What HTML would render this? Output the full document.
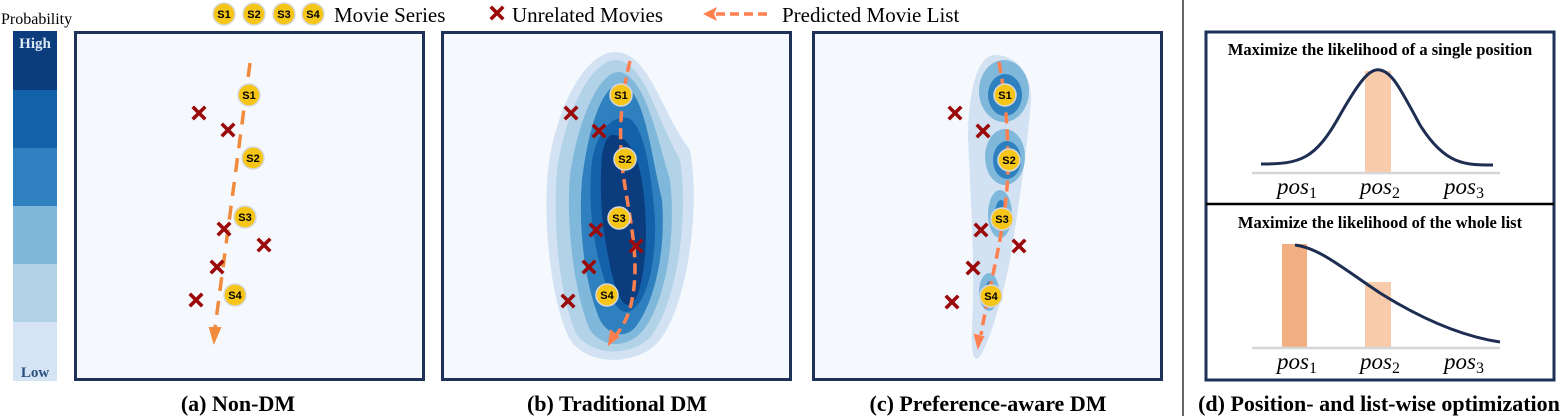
<!DOCTYPE html>
<html><head><meta charset="utf-8"><style>
html,body{margin:0;padding:0;background:#fff;}
svg{display:block;}
.cap{font-family:"Liberation Serif",serif;font-weight:bold;font-size:22px;fill:#000;}
.leg{font-family:"Liberation Serif",serif;font-size:21px;fill:#000;}
.s{font-family:"Liberation Sans",sans-serif;font-weight:bold;font-size:11px;fill:#000;}
.t{font-family:"Liberation Serif",serif;font-weight:bold;font-size:16.5px;fill:#000;}
.p{font-family:"Liberation Serif",serif;font-style:italic;font-size:23px;fill:#000;}
.sub{font-family:"Liberation Serif",serif;font-style:normal;font-size:16px;fill:#000;}
</style></head><body>
<svg width="1563" height="416" viewBox="0 0 1563 416" xmlns="http://www.w3.org/2000/svg">
<defs>
<g id="x"><path d="M-5,-5 L5,5 M5,-5 L-5,5" stroke="#9b0a0a" stroke-width="3.6" stroke-linecap="square"/></g>
</defs>
<!-- legend -->
<text x="1" y="24" font-family="Liberation Serif,serif" font-size="16">Probability</text>
<g>
<circle cx="224" cy="14" r="11" fill="#f5c518" stroke="#d8d8d8" stroke-width="1.5"/><text x="224" y="18" text-anchor="middle" class="s">S1</text>
<circle cx="254" cy="14" r="11" fill="#f5c518" stroke="#d8d8d8" stroke-width="1.5"/><text x="254" y="18" text-anchor="middle" class="s">S2</text>
<circle cx="284" cy="14" r="11" fill="#f5c518" stroke="#d8d8d8" stroke-width="1.5"/><text x="284" y="18" text-anchor="middle" class="s">S3</text>
<circle cx="313" cy="14" r="11" fill="#f5c518" stroke="#d8d8d8" stroke-width="1.5"/><text x="313" y="18" text-anchor="middle" class="s">S4</text>
</g>
<text x="334" y="22" class="leg">Movie Series</text>
<use href="#x" x="497" y="13"/>
<text x="512" y="22" class="leg">Unrelated Movies</text>
<line x1="716" y1="14" x2="770" y2="14" stroke="#ff7f4f" stroke-width="3.5" stroke-dasharray="9,5"/>
<path d="M703,14 L717,7 L714,14 L717,21 Z" fill="#ff7f4f"/>
<text x="782" y="22" class="leg">Predicted Movie List</text>

<!-- colorbar -->
<rect x="13" y="31" width="44" height="59" fill="#0b3d7e"/>
<rect x="13" y="90" width="44" height="58" fill="#1361a8"/>
<rect x="13" y="148" width="44" height="58" fill="#2f80bf"/>
<rect x="13" y="206" width="44" height="58" fill="#7fb8da"/>
<rect x="13" y="264" width="44" height="58" fill="#b2d2e8"/>
<rect x="13" y="322" width="44" height="59" fill="#d5e4f4"/>
<text x="35" y="48" text-anchor="middle" font-family="Liberation Serif,serif" font-weight="bold" font-size="15" fill="#dbe8f5">High</text>
<text x="35" y="377" text-anchor="middle" font-family="Liberation Serif,serif" font-weight="bold" font-size="15" fill="#2a4f7e">Low</text>

<!-- panel a -->
<rect x="75.5" y="32.5" width="348" height="347" fill="#f5f9fe" stroke="#1e3158" stroke-width="3"/>
<line x1="250" y1="63" x2="215" y2="328" stroke="#f08a3c" stroke-width="3.5" stroke-dasharray="14,10"/>
<path d="M210,328 L220,328 L214,342 Z" fill="#f08a3c" stroke="#f08a3c" stroke-width="2"/>
<use href="#x" x="199" y="113"/><use href="#x" x="228" y="130"/><use href="#x" x="224" y="229"/><use href="#x" x="264" y="245"/><use href="#x" x="217" y="267"/><use href="#x" x="196" y="300"/>
<circle cx="249" cy="95" r="11" fill="#f5c518" stroke="#d8d8d8" stroke-width="1.5"/><text x="249" y="99" text-anchor="middle" class="s">S1</text>
<circle cx="253" cy="158" r="11" fill="#f5c518" stroke="#d8d8d8" stroke-width="1.5"/><text x="253" y="162" text-anchor="middle" class="s">S2</text>
<circle cx="245" cy="217" r="11" fill="#f5c518" stroke="#d8d8d8" stroke-width="1.5"/><text x="245" y="221" text-anchor="middle" class="s">S3</text>
<circle cx="235" cy="295" r="11" fill="#f5c518" stroke="#d8d8d8" stroke-width="1.5"/><text x="235" y="299" text-anchor="middle" class="s">S4</text>
<text x="238" y="411" text-anchor="middle" class="cap">(a) Non-DM</text>

<!-- panel b -->
<rect x="442.5" y="32.5" width="348" height="347" fill="#f5f9fe" stroke="#1e3158" stroke-width="3"/>
<path d="M617,52 C650,55 660,110 690,150 C700,200 690,300 660,340 C640,365 590,368 570,340 C550,300 543,220 548,170 C555,110 585,50 617,52 Z" fill="#d2e2f3"/>
<path d="M618,60 C645,65 655,115 680,160 C688,210 680,295 652,335 C635,356 595,358 577,335 C558,295 553,220 557,170 C565,115 590,58 618,60 Z" fill="#b2d2e8"/>
<path d="M620,72 C645,78 655,130 670,180 C676,230 668,295 645,328 C630,348 605,350 590,330 C573,290 566,220 570,175 C577,125 598,70 620,72 Z" fill="#7fb8da"/>
<path d="M622,84 C645,92 650,150 662,200 C666,250 655,300 637,325 C628,338 610,338 600,320 C585,285 578,230 582,180 C588,130 602,82 622,84 Z" fill="#2f80bf"/>
<path d="M628,118 C645,125 652,180 655,220 C656,260 648,300 632,310 C620,318 610,300 603,275 C592,240 588,200 592,160 C598,130 612,115 628,118 Z" fill="#1361a8"/>
<path d="M615,135 C640,140 645,190 646,230 C646,265 640,300 630,305 C620,308 612,280 607,250 C600,215 600,180 602,155 C605,140 608,134 615,135 Z" fill="#0b3d7e"/>
<path d="M630,61 C620,100 618,140 624,180 C630,220 640,260 632,300 C628,320 620,330 614,338" fill="none" stroke="#ff7f4f" stroke-width="3.5" stroke-dasharray="11,6"/>
<path d="M609,344 L611,331 L618,337 Z" fill="#ff7f4f" stroke="#ff7f4f" stroke-width="2"/>
<use href="#x" x="571" y="113"/><use href="#x" x="599" y="131"/><use href="#x" x="596" y="230"/><use href="#x" x="636" y="246"/><use href="#x" x="589" y="267"/><use href="#x" x="568" y="301"/>
<circle cx="621" cy="95" r="11" fill="#f5c518" stroke="#d8d8d8" stroke-width="1.5"/><text x="621" y="99" text-anchor="middle" class="s">S1</text>
<circle cx="625" cy="159" r="11" fill="#f5c518" stroke="#d8d8d8" stroke-width="1.5"/><text x="625" y="163" text-anchor="middle" class="s">S2</text>
<circle cx="619" cy="218" r="11" fill="#f5c518" stroke="#d8d8d8" stroke-width="1.5"/><text x="619" y="222" text-anchor="middle" class="s">S3</text>
<circle cx="607" cy="295" r="11" fill="#f5c518" stroke="#d8d8d8" stroke-width="1.5"/><text x="607" y="299" text-anchor="middle" class="s">S4</text>
<text x="617" y="411" text-anchor="middle" class="cap">(b) Traditional DM</text>

<!-- panel c -->
<rect x="813.5" y="32.5" width="348" height="347" fill="#f5f9fe" stroke="#1e3158" stroke-width="3"/>
<path d="M995,55 C1020,55 1032,80 1031,100 C1028,140 1020,200 1010,260 C1000,310 985,355 977,359 C970,360 972,330 973,300 C974,250 970,180 968,140 C968,100 975,55 995,55 Z" fill="#d2e2f3"/>
<ellipse cx="1004" cy="91" rx="25" ry="31" fill="#7fb8da"/>
<ellipse cx="1005" cy="95" rx="17" ry="21" fill="#2f80bf"/>
<ellipse cx="1005" cy="157" rx="20" ry="28" fill="#7fb8da"/>
<ellipse cx="1007" cy="160" rx="14" ry="19" fill="#2f80bf"/>
<ellipse cx="1000" cy="214" rx="12" ry="24" fill="#7fb8da"/>
<ellipse cx="1001" cy="214" rx="6" ry="14" fill="#2f80bf"/>
<ellipse cx="989" cy="292" rx="10" ry="19" fill="#7fb8da"/>
<ellipse cx="990" cy="292" rx="5" ry="11" fill="#2f80bf"/>
<path d="M999,62 C1006,100 1008,130 1008,170 C1006,230 990,280 981,335" fill="none" stroke="#ff7f4f" stroke-width="3.5" stroke-dasharray="11,6"/>
<path d="M978,347 L975,335 L983,337 Z" fill="#ff7f4f" stroke="#ff7f4f" stroke-width="2"/>
<use href="#x" x="955" y="113"/><use href="#x" x="983" y="131"/><use href="#x" x="981" y="230"/><use href="#x" x="1019" y="246"/><use href="#x" x="973" y="268"/><use href="#x" x="952" y="302"/>
<circle cx="1005" cy="95" r="11" fill="#f5c518" stroke="#d8d8d8" stroke-width="1.5"/><text x="1005" y="99" text-anchor="middle" class="s">S1</text>
<circle cx="1009" cy="160" r="11" fill="#f5c518" stroke="#d8d8d8" stroke-width="1.5"/><text x="1009" y="164" text-anchor="middle" class="s">S2</text>
<circle cx="1002" cy="219" r="11" fill="#f5c518" stroke="#d8d8d8" stroke-width="1.5"/><text x="1002" y="223" text-anchor="middle" class="s">S3</text>
<circle cx="991" cy="296" r="11" fill="#f5c518" stroke="#d8d8d8" stroke-width="1.5"/><text x="991" y="300" text-anchor="middle" class="s">S4</text>
<text x="988" y="411" text-anchor="middle" class="cap">(c) Preference-aware DM</text>

<!-- divider -->
<line x1="1183" y1="0" x2="1183" y2="416" stroke="#333" stroke-width="1.5"/>

<!-- panel d -->
<rect x="1206" y="32" width="348" height="348" fill="#fff" stroke="#1e3158" stroke-width="3"/>
<line x1="1206" y1="204" x2="1554" y2="204" stroke="#000" stroke-width="2.5"/>
<text x="1380" y="55" text-anchor="middle" class="t">Maximize the likelihood of a single position</text>
<rect x="1365" y="71" width="26" height="102" fill="#f8cbab"/>
<line x1="1252" y1="173" x2="1500" y2="173" stroke="#d6d6d6" stroke-width="2.5"/>
<path d="M1261,164 C1300,164 1315,160 1340,115 C1360,80 1370,68 1380,70 C1392,72 1400,88 1420,125 C1445,165 1465,165 1493,165" fill="none" stroke="#1e2d52" stroke-width="3"/>
<text x="1297" y="194" class="p" text-anchor="middle">pos<tspan class="sub" dy="4">1</tspan></text>
<text x="1380" y="194" class="p" text-anchor="middle">pos<tspan class="sub" dy="4">2</tspan></text>
<text x="1464" y="194" class="p" text-anchor="middle">pos<tspan class="sub" dy="4">3</tspan></text>

<text x="1380" y="228" text-anchor="middle" class="t">Maximize the likelihood of the whole list</text>
<rect x="1282" y="244" width="25" height="104" fill="#f1af82"/>
<rect x="1365" y="282" width="26" height="66" fill="#f8cbab"/>
<line x1="1252" y1="348" x2="1500" y2="348" stroke="#d6d6d6" stroke-width="2.5"/>
<path d="M1295,245 C1320,248 1345,270 1380,293 C1420,318 1460,336 1500,342" fill="none" stroke="#1e2d52" stroke-width="3"/>
<text x="1297" y="369" class="p" text-anchor="middle">pos<tspan class="sub" dy="4">1</tspan></text>
<text x="1380" y="369" class="p" text-anchor="middle">pos<tspan class="sub" dy="4">2</tspan></text>
<text x="1464" y="369" class="p" text-anchor="middle">pos<tspan class="sub" dy="4">3</tspan></text>
<text x="1379" y="411" text-anchor="middle" class="cap">(d) Position- and list-wise optimization</text>
</svg>
</body></html>
